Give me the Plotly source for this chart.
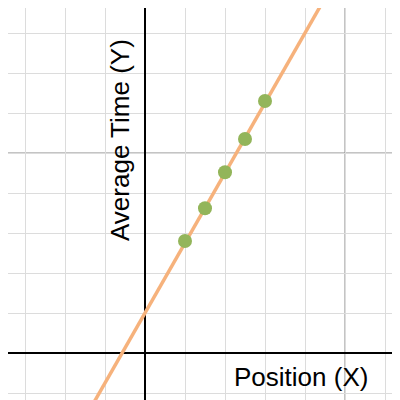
import plotly.graph_objects as go

pos_x = [1.0, 1.5, 2.0, 2.5, 3.0]
avg_y = [2.8, 3.62, 4.52, 5.35, 6.3]
fit_x = [-4.0, 7.0]
slope, intercept = 1.75, 1.0
fit_y = [slope * x + intercept for x in fit_x]

fig = go.Figure()
fig.add_trace(go.Scatter(x=fit_x, y=fit_y, mode="lines",
                         line=dict(color="#f6b27c", width=3.5), hoverinfo="skip"))
fig.add_trace(go.Scatter(x=pos_x, y=avg_y, mode="markers",
                         marker=dict(color="#93b55a", size=14)))

for v in [5]:
    fig.add_shape(type="line", x0=v, x1=v, y0=-2, y1=10, line=dict(color="#888", width=1), layer="below")
    fig.add_shape(type="line", x0=-5, x1=8, y0=v, y1=v, line=dict(color="#888", width=1), layer="below")

off = 8
fig.update_layout(
    width=400, height=400, margin=dict(l=0, r=0, t=0, b=0),
    plot_bgcolor="white", paper_bgcolor="white", showlegend=False,
    font=dict(family="Liberation Sans, Arial", size=26, color="black"),
    xaxis=dict(range=[-3.425, 6.575], dtick=1, showticklabels=False,
               gridcolor="#dcdcdc", gridwidth=1, zeroline=True, zerolinecolor="black", zerolinewidth=1.5),
    yaxis=dict(range=[-1.375, 8.625], dtick=1, showticklabels=False,
               gridcolor="#dcdcdc", gridwidth=1, zeroline=True, zerolinecolor="black", zerolinewidth=1.5),
    annotations=[
        dict(text="Average Time (Y)", xref="paper", yref="paper", x=(120 - off) / 400, y=1 - (140 - off) / 400,
             textangle=-90, showarrow=False, xanchor="center", yanchor="middle"),
        dict(text="Position (X)", xref="paper", yref="paper", x=(370 - off) / 400, y=1 - (377 - off) / 400,
             showarrow=False, xanchor="right", yanchor="middle"),
    ],
)
fig.write_html("out.html")
